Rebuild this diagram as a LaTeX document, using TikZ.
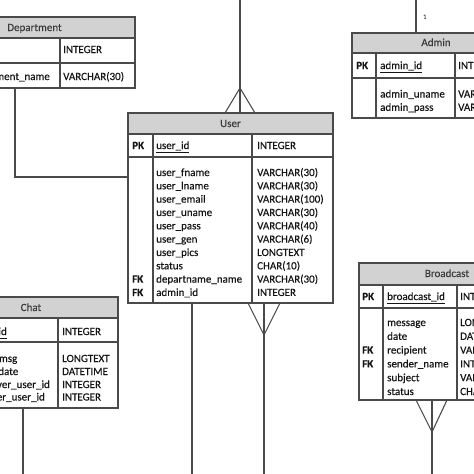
\documentclass[tikz,border=0pt]{standalone}
\usepackage{fontspec}
\setmainfont{Carlito}
\newfontfamily\heavyfont{Carlito}[FakeBold=0.35]
\newfontfamily\headfont{Carlito}[FakeBold=0.15]
\definecolor{linec}{HTML}{4A4A4A}
\definecolor{hdrc}{HTML}{D2D2D2}
\definecolor{txtc}{HTML}{141414}
\definecolor{htxt}{HTML}{3A3A3A}
\begin{document}
\begin{tikzpicture}[x=1pt,y=-1pt,
  tbox/.style={draw=linec, line width=1.2pt, rectangle, inner sep=0, outer sep=0, anchor=north west},
  hbox/.style={fill=hdrc, draw=linec, line width=1.2pt, rectangle, inner sep=0, outer sep=0, anchor=north west},
  tline/.style={draw=linec, line width=1.2pt},
  conn/.style={draw=linec, line width=1.1pt},
  txt/.style={font=\heavyfont\fontsize{11}{13.3}\selectfont, text=txtc, inner sep=0, anchor=base west},
  txte/.style={txt, anchor=base east},
  key/.style={txt, font=\heavyfont\fontsize{11}{13.3}\selectfont\bfseries},
  htx/.style={font=\headfont\fontsize{11}{13.3}\selectfont, text=htxt, inner sep=0, anchor=base},
  small/.style={font=\fontsize{7}{8}\selectfont, text=txtc, inner sep=0, anchor=base west}]
\useasboundingbox (0,0) rectangle (474,474);
\clip (0,0) rectangle (474,474);

% ---------- Department ----------
\node[hbox, minimum width=201, minimum height=21] (deptH) at (-66,17) {};
\node[tbox, minimum width=201, minimum height=71] (dept) at (-66,17) {};
\draw[tline] (-66,63) -- (135,63);
\draw[tline] (60,38) -- (60,88);
\node[htx] (deptT) at (34.5,31) {Department};
\node[txt] (deptA) at (63,53) {INTEGER};
\node[txte] (deptB) at (50,80) {department\_name};
\node[txt] (deptC) at (63,80) {VARCHAR(30)};

% ---------- User ----------
\node[hbox, minimum width=205, minimum height=21] (userH) at (128,113) {};
\node[tbox, minimum width=205, minimum height=190] (user) at (128,113) {};
\draw[tline] (128,157) -- (333,157);
\draw[tline] (153,134) -- (153,303);
\draw[tline] (252,134) -- (252,303);
\node[htx] (userT) at (230.5,127) {User};
\node[key] (userPK) at (132,149) {PK};
\node[txt] (userId) at (156,149) {\underline{user\_id}};
\node[txt] (userIdT) at (257,149) {INTEGER};
\foreach \n/\t [count=\i from 0] in {user\_fname/VARCHAR(30), user\_lname/VARCHAR(30), user\_email/VARCHAR(100), user\_uname/VARCHAR(30), user\_pass/VARCHAR(40), user\_gen/VARCHAR(6), user\_pics/LONGTEXT, status/CHAR(10), departname\_name/VARCHAR(30), admin\_id/INTEGER}{
  \node[txt] (userN\i) at (156,176+13.33*\i) {\n};
  \node[txt] (userT\i) at (257,176+13.33*\i) {\t};
}
\node[key] (userFK1) at (132,282.6) {FK};
\node[key] (userFK2) at (132,296) {FK};

% ---------- Admin ----------
\node[hbox, minimum width=168, minimum height=20] (adminH) at (352,33) {};
\node[tbox, minimum width=168, minimum height=85] (admin) at (352,33) {};
\draw[tline] (352,78) -- (520,78);
\draw[tline] (376,53) -- (376,118);
\draw[tline] (455,53) -- (455,118);
\node[htx] (adminT) at (436,46) {Admin};
\node[key] (adminPK) at (356,69) {PK};
\node[txt] (adminId) at (380,69) {\underline{admin\_id}};
\node[txt] (adminIdT) at (458,69) {INTEGER};
\node[txt] (adminN0) at (380,97.5) {admin\_uname};
\node[txt] (adminT0) at (458,97.5) {VARCHAR(30)};
\node[txt] (adminN1) at (380,110.8) {admin\_pass};
\node[txt] (adminT1) at (458,110.8) {VARCHAR(30)};

% ---------- Chat ----------
\node[hbox, minimum width=174, minimum height=21] (chatH) at (-56,297) {};
\node[tbox, minimum width=174, minimum height=111] (chat) at (-56,297) {};
\draw[tline] (-56,342) -- (118,342);
\draw[tline] (58,318) -- (58,408);
\node[htx] (chatT) at (31,311) {Chat};
\node[txte] (chatId) at (7,335) {\underline{chat\_id}};
\node[txt] (chatIdT) at (62,335) {INTEGER};
\node[txte] (chatN0) at (17.5,362) {chat\_msg};
\node[txt] (chatT0) at (62,362) {LONGTEXT};
\node[txte] (chatN1) at (18.5,375) {chat\_date};
\node[txt] (chatT1) at (62,375) {DATETIME};
\node[txte] (chatN2) at (50,388) {receiver\_user\_id};
\node[txt] (chatT2) at (62,388) {INTEGER};
\node[txte] (chatN3) at (45,400.5) {sender\_user\_id};
\node[txt] (chatT3) at (62,400.5) {INTEGER};

% ---------- Broadcast ----------
\node[hbox, minimum width=176, minimum height=22] (bcH) at (359,263) {};
\node[tbox, minimum width=176, minimum height=137] (bc) at (359,263) {};
\draw[tline] (359,308) -- (535,308);
\draw[tline] (383,285) -- (383,400);
\draw[tline] (457,285) -- (457,400);
\node[htx] (bcT) at (447,277) {Broadcast};
\node[key] (bcPK) at (362,300) {PK};
\node[txt] (bcId) at (387,300) {\underline{broadcast\_id}};
\node[txt] (bcIdT) at (460,300) {INTEGER};
\foreach \n/\t [count=\i from 0] in {message/LONGTEXT, date/DATETIME, recipient/VARCHAR(30), sender\_name/INTEGER, subject/VARCHAR(50), status/CHAR(10)}{
  \node[txt] (bcN\i) at (387,326+13.8*\i) {\n};
  \node[txt] (bcT\i) at (460,326+13.8*\i) {\t};
}
\node[key] (bcFK1) at (362,353.6) {FK};
\node[key] (bcFK2) at (362,367.4) {FK};

% ---------- Connectors ----------
% Department -> User
\coordinate (deptOut) at (15,88);
\coordinate (userIn) at (128,177);
\draw[conn] (deptOut) |- (userIn);

% top -> User (crow's foot)
\coordinate (topEnd) at (240,0);
\coordinate (userTopApex) at (240,88);
\coordinate (userTopMid) at (240,113);
\coordinate (userTopL) at (225,113);
\coordinate (userTopR) at (255,113);
\draw[conn] (topEnd) -- (userTopMid);
\draw[conn] (userTopL) -- (userTopApex) -- (userTopR);

% top -> Admin
\coordinate (adminTopEnd) at (416,0);
\coordinate (adminTop) at (416,33);
\draw[conn] (adminTopEnd) -- (adminTop);
\node[small] (adminOne) at (423,19) {1};

% User bottom lines
\coordinate (userB1) at (192,303);
\coordinate (userB1End) at (192,474);
\draw[conn] (userB1) -- (userB1End);
\coordinate (userB2) at (264,303);
\coordinate (userB2End) at (264,474);
\coordinate (userB2Apex) at (264,335);
\coordinate (userB2L) at (248,303);
\coordinate (userB2R) at (280,303);
\draw[conn] (userB2) -- (userB2End);
\draw[conn] (userB2L) -- (userB2Apex) -- (userB2R);

% Chat bottom line
\coordinate (chatB) at (23,408);
\coordinate (chatBEnd) at (23,474);
\draw[conn] (chatB) -- (chatBEnd);

% Broadcast bottom crow's foot
\coordinate (bcB) at (432,400);
\coordinate (bcBEnd) at (432,474);
\coordinate (bcBApex) at (432,432);
\coordinate (bcBL) at (416,400);
\coordinate (bcBR) at (447,400);
\draw[conn] (bcB) -- (bcBEnd);
\draw[conn] (bcBL) -- (bcBApex) -- (bcBR);
\end{tikzpicture}
\end{document}
